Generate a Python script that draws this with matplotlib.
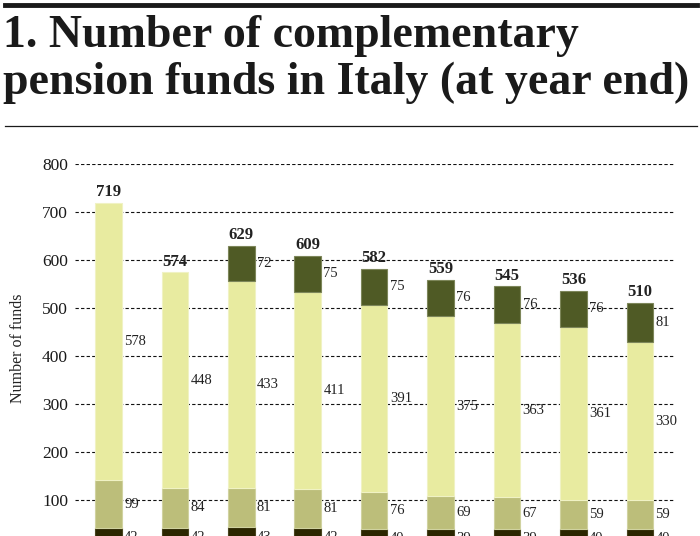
import matplotlib.pyplot as plt
from matplotlib.lines import Line2D
import numpy as np

# values (bottom to top)
segment_a = [42, 42, 43, 42, 40, 39, 39, 40, 40]
segment_b = [99, 84, 81, 81, 76, 69, 67, 59, 59]
segment_c = [578, 448, 433, 411, 391, 375, 363, 361, 330]
segment_d = [0, 0, 72, 75, 75, 76, 76, 76, 81]
totals = [719, 574, 629, 609, 582, 559, 545, 536, 510]
y_ticks = [100, 200, 300, 400, 500, 600, 700, 800]

colors = ['#2b2600', '#bcbe7a', '#e8eba0', '#4f5a25']
edge = ['#4a4520', '#d0d2a0', '#f0f2c4', '#7d865a']

W, H = 700, 536
fig = plt.figure(figsize=(W / 100, H / 100), dpi=100)
serif = 'Liberation Serif'

# axes placed so that y=0 lies just below the bottom edge (chart is cropped)
y0_px, y800_px = 548, 164
ax_left, ax_right = 75, 675
ax = fig.add_axes([ax_left / W, (H - y0_px) / H,
                   (ax_right - ax_left) / W, (y0_px - y800_px) / H])

x = np.arange(len(totals))
width = 0.40
bottom = np.zeros(len(totals))
for vals, c, e in zip([segment_a, segment_b, segment_c, segment_d], colors, edge):
    vals = np.array(vals)
    keep = vals > 0
    ax.bar(x[keep], vals[keep], width, bottom=bottom[keep], color=c, edgecolor=e,
           linewidth=0.8, zorder=3)
    for xi, v, b in zip(x[keep], vals[keep], bottom[keep]):
        ax.text(xi + width / 2 + 0.035, b + v / 2, str(v), ha='left', va='center',
                fontsize=10.5, family=serif, color='#222222', zorder=4)
    bottom = bottom + vals

for xi, t in zip(x, totals):
    ax.text(xi, t + 6, str(t), ha='center', va='bottom', fontsize=12,
            fontweight='bold', family=serif, color='#222222')

ax.set_xlim(-0.505, 8.53)
ax.set_ylim(0, 800)
ax.set_yticks(y_ticks)
ax.set_yticklabels([str(v) for v in y_ticks], family=serif, fontsize=12.5)
ax.tick_params(axis='y', length=0, pad=5, labelcolor='#1a1a1a')
ax.set_xticks([])
ax.grid(axis='y', color='#111111', linestyle=(0, (3, 2)), linewidth=0.8, zorder=0)
for s in ax.spines.values():
    s.set_visible(False)

fig.text(18 / W, 1 - 348 / H, 'Number of funds', rotation=90, ha='center', va='center',
         fontsize=11.5, family=serif, color='#222222')

# title and rules
fig.add_artist(Line2D([5 / W, 697 / W], [1 - 5 / H, 1 - 5 / H], color='#1a1a1a', linewidth=3.5))
fig.add_artist(Line2D([5 / W, 697 / W], [1 - 126 / H, 1 - 126 / H], color='#1a1a1a', linewidth=0.9))
fig.text(3 / W, 1 - 47 / H, '1. Number of complementary', ha='left', va='baseline',
         fontsize=33, fontweight='bold', family=serif, color='#1a1a1a')
fig.text(3 / W, 1 - 94 / H, 'pension funds in Italy (at year end)', ha='left', va='baseline',
         fontsize=33, fontweight='bold', family=serif, color='#1a1a1a')

fig.savefig('out.png', dpi=100)
